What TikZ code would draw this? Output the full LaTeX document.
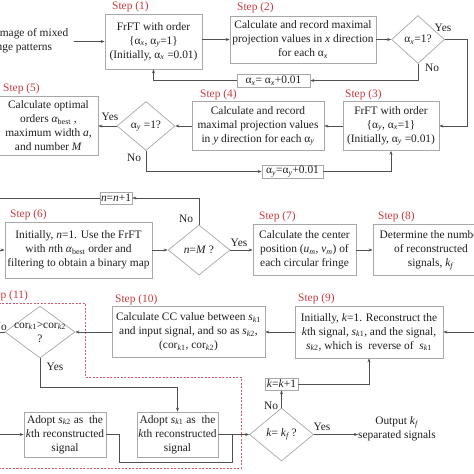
\documentclass[tikz,border=0pt]{standalone}
\usepackage{fontspec}
\setmainfont{Liberation Serif}
\usetikzlibrary{shapes.geometric,arrows.meta}
\definecolor{boxgray}{HTML}{A8A8A8}
\definecolor{linegray}{HTML}{505050}
\definecolor{stepred}{HTML}{C8383C}
\definecolor{dashred}{HTML}{D85A68}
\definecolor{txt}{HTML}{1E1E1E}
\newcommand{\myax}{α\textsubscript{\textit{x}}}
\newcommand{\myay}{α\textsubscript{\textit{y}}}
\newcommand{\myabest}{\textit{α}\textsubscript{best}}
\newcommand{\mysk}[1]{\textit{s}\textsubscript{\textit{k}#1}}
\newcommand{\mycork}[1]{cor\textsubscript{\textit{k}#1}}
\newcommand{\mykf}{\textit{k}\textsubscript{\textit{f}}}
\begin{document}
\begin{tikzpicture}[x=1pt,y=-1pt,
  every node/.style={font=\fontsize{11.4}{14}\selectfont, text=txt},
  pbox/.style={draw=boxgray, line width=0.7pt, fill=white, align=center, inner sep=1pt},
  dia/.style={draw=boxgray, line width=0.7pt, shape=diamond, inner sep=0pt, fill=white},
  lbl/.style={align=center, inner sep=0pt},
  steplbl/.style={text=stepred, anchor=west, inner sep=0pt},
  conn/.style={draw=linegray, line width=0.6pt, -{Stealth[length=4pt,width=3pt]}},
  wire/.style={draw=linegray, line width=0.6pt},
  region/.style={draw=dashred, dash pattern=on 2pt off 1.5pt, line width=0.7pt}]
\useasboundingbox (0,0) rectangle (474,474);

% step 11 region
\draw[region]
  (-5,303) -- (85,303) -- (85,377) -- (241,377) -- (241,468) -- (-5,468);

% ---------- row 1
\node[lbl] (in) at (19,41) {Input image of mixed\\fringe patterns};
\node[pbox, minimum width=97, minimum height=55] (b1) at (153.5,41.5)
  {FrFT with order\\\{\myax, \myay=1\}\\(Initially, \myax\ =0.01)};
\node[pbox, minimum width=146, minimum height=47] (b2) at (303,39.5)
  {Calculate and record maximal\\projection values in \textit{x} direction\\for each \myax};
\node[dia, minimum width=53, minimum height=48] (d1) at (418,39.5) {};
\node[lbl] (d1t) at (d1) {\myax=1?};
\node[pbox, minimum width=73, minimum height=13] (ax) at (273.5,80.5) {\myax= \myax+0.01};

\node[steplbl] (s1) at (112,7) {Step (1)};
\node[steplbl] (s2) at (237,8) {Step (2)};
\node[lbl] (y1) at (443,28) {Yes};
\node[lbl] (n1) at (432,68) {No};

% ---------- row 2
\node[pbox, minimum width=96, minimum height=49] (b3) at (391,126)
  {FrFT with order\\\{\myay, \myax=1\}\\(Initially, \myay\ =0.01)};
\node[pbox, minimum width=132, minimum height=49] (b4) at (258,126)
  {Calculate and record\\maximal projection values\\in \textit{y} direction for each \myay};
\node[dia, minimum width=58, minimum height=49] (d2) at (146,126) {};
\node[lbl] (d2t) at (d2) {\myay\ =1?};
\node[pbox, minimum width=99, minimum height=59] (b5) at (48.5,126)
  {Calculate optimal\\orders \myabest\ ,\\maximum width \textit{a},\\and number \textit{M}};
\node[pbox, minimum width=61, minimum height=13] (ay) at (292.5,171.5) {\myay=\myay+0.01};

\node[steplbl] (s3) at (345,95) {Step (3)};
\node[steplbl] (s4) at (200,95) {Step (4)};
\node[steplbl] (s5) at (3,89) {Step (5)};
\node[lbl] (y2) at (110,117) {Yes};
\node[lbl] (n2) at (134,158) {No};

% ---------- row 3
\node[pbox, minimum width=32, minimum height=12] (nn) at (116,198) {\textit{n}=\textit{n}+1};
\node[pbox, minimum width=147, minimum height=56] (b6) at (78.5,250)
  {Initially, \textit{n}=1. Use the FrFT\\with \textit{n}th \myabest\ order and\\filtering to obtain a binary map};
\node[dia, minimum width=62, minimum height=50] (d3) at (199,250) {};
\node[lbl] (d3t) at (d3) {\textit{n}=\textit{M} ?};
\node[pbox, minimum width=103, minimum height=51] (b7) at (304.5,250)
  {Calculate the center\\position (\textit{u}\textsubscript{\textit{m}}, \textit{v}\textsubscript{\textit{m}}) of\\each circular fringe};
\node[pbox, minimum width=116, minimum height=51] (b8) at (431,250)
  {Determine the number\\of reconstructed\\signals, \mykf};

\node[steplbl] (s6) at (10,215) {Step (6)};
\node[steplbl] (s7) at (259,217) {Step (7)};
\node[steplbl] (s8) at (378,217) {Step (8)};
\node[lbl] (n3) at (186,219) {No};
\node[lbl] (y3) at (239,243) {Yes};

% ---------- row 4
\node[pbox, minimum width=148, minimum height=52] (b9) at (369,332)
  {Initially, \textit{k}=1. Reconstruct the\\\textit{k}th signal, \mysk{1}, and the signal,\\\mysk{2}, which is\ \ reverse of\ \ \mysk{1}};
\node[pbox, minimum width=153, minimum height=51] (b10) at (188.5,332)
  {Calculate CC value between \mysk{1}\\and input signal, and so as \mysk{2},\\(\mycork{1}, \mycork{2})};
\node[dia, minimum width=70, minimum height=52] (d4) at (40,332) {};
\node[lbl] (d4t) at (d4) {\mycork{1}>\mycork{2}\\?};
\node[pbox, minimum width=82, minimum height=45] (a2) at (65,434.5)
  {Adopt \mysk{2} as\ \ the\\\textit{k}th reconstructed\\signal};
\node[pbox, minimum width=81, minimum height=45] (a1) at (177.5,434.5)
  {Adopt \mysk{1} as\ \ the\\\textit{k}th reconstructed\\signal};
\node[dia, minimum width=64, minimum height=53] (d5) at (281.5,434.5) {};
\node[lbl] (d5t) at (d5) {\textit{k}= \mykf\,?};
\node[pbox, minimum width=33, minimum height=12] (kk) at (281.5,384) {\textit{k}=\textit{k}+1};
\node[lbl, anchor=west] (out) at (358,429) {Output \mykf\\separated signals};
\coordinate (jn) at (232,434.5);

\node[steplbl] (s9) at (298,299) {Step (9)};
\node[steplbl] (s10) at (115,300) {Step (10)};
\node[steplbl, anchor=east] (s11) at (28,296) {Step (11)};
\node[lbl, anchor=east] (n4) at (7,327) {No};
\node[lbl] (y4) at (55,367) {Yes};
\node[lbl] (n5) at (271,406) {No};
\node[lbl] (y5) at (322,427) {Yes};

% ---------- connectors
\draw[conn] ([xshift=6pt]in.east |- b1.west) -- (b1.west);
\draw[conn] (b1.east |- b2.west) -- (b2.west);
\draw[conn] (b2.east) -- (d1.west);
\draw[conn] (d1.east) -- ++(22,0) |- (b3.east);
\draw[conn] (d1.south) |- (ax.east);
\draw[conn] (ax.west) -| (b1.south);
\draw[conn] (b3.west) -- (b4.east);
\draw[conn] (b4.west) -- (d2.east);
\draw[conn] (d2.west) -- (b5.east);
\draw[conn] (d2.south) |- (ay.west);
\draw[conn] (ay.east) -| (b3.south);

\draw[conn] (d3.north) |- (nn.east);
\draw[conn] (nn.west) -- ++(-112,0) |- (b6.west);
\draw[conn] (b6.east) -- (d3.west);
\draw[conn] (d3.east) -- (b7.west);
\draw[conn] (b7.east) -- (b8.west);
\draw[conn] (b8.east) -- ++(6,0) |- (b9.east);

\draw[conn] (b9.west) -- (b10.east);
\draw[conn] (b10.west) -- (d4.east);
\draw[conn] (d4.west) -- ++(-20,0) |- (a2.west);
\draw[conn] (d4.south) -- ++(0,29) -| (a1.north);
\draw[wire] (a2.east) -- ++(13,0) -- ++(0,27.5) -| (jn);
\draw[conn] (a1.east) -- (d5.west);
\draw[conn] (d5.north) -- (kk.south);
\draw[conn] (kk.east) -| (b9.south);
\draw[conn] (d5.east) -- (d5.east -| out.west);
\end{tikzpicture}
\end{document}
